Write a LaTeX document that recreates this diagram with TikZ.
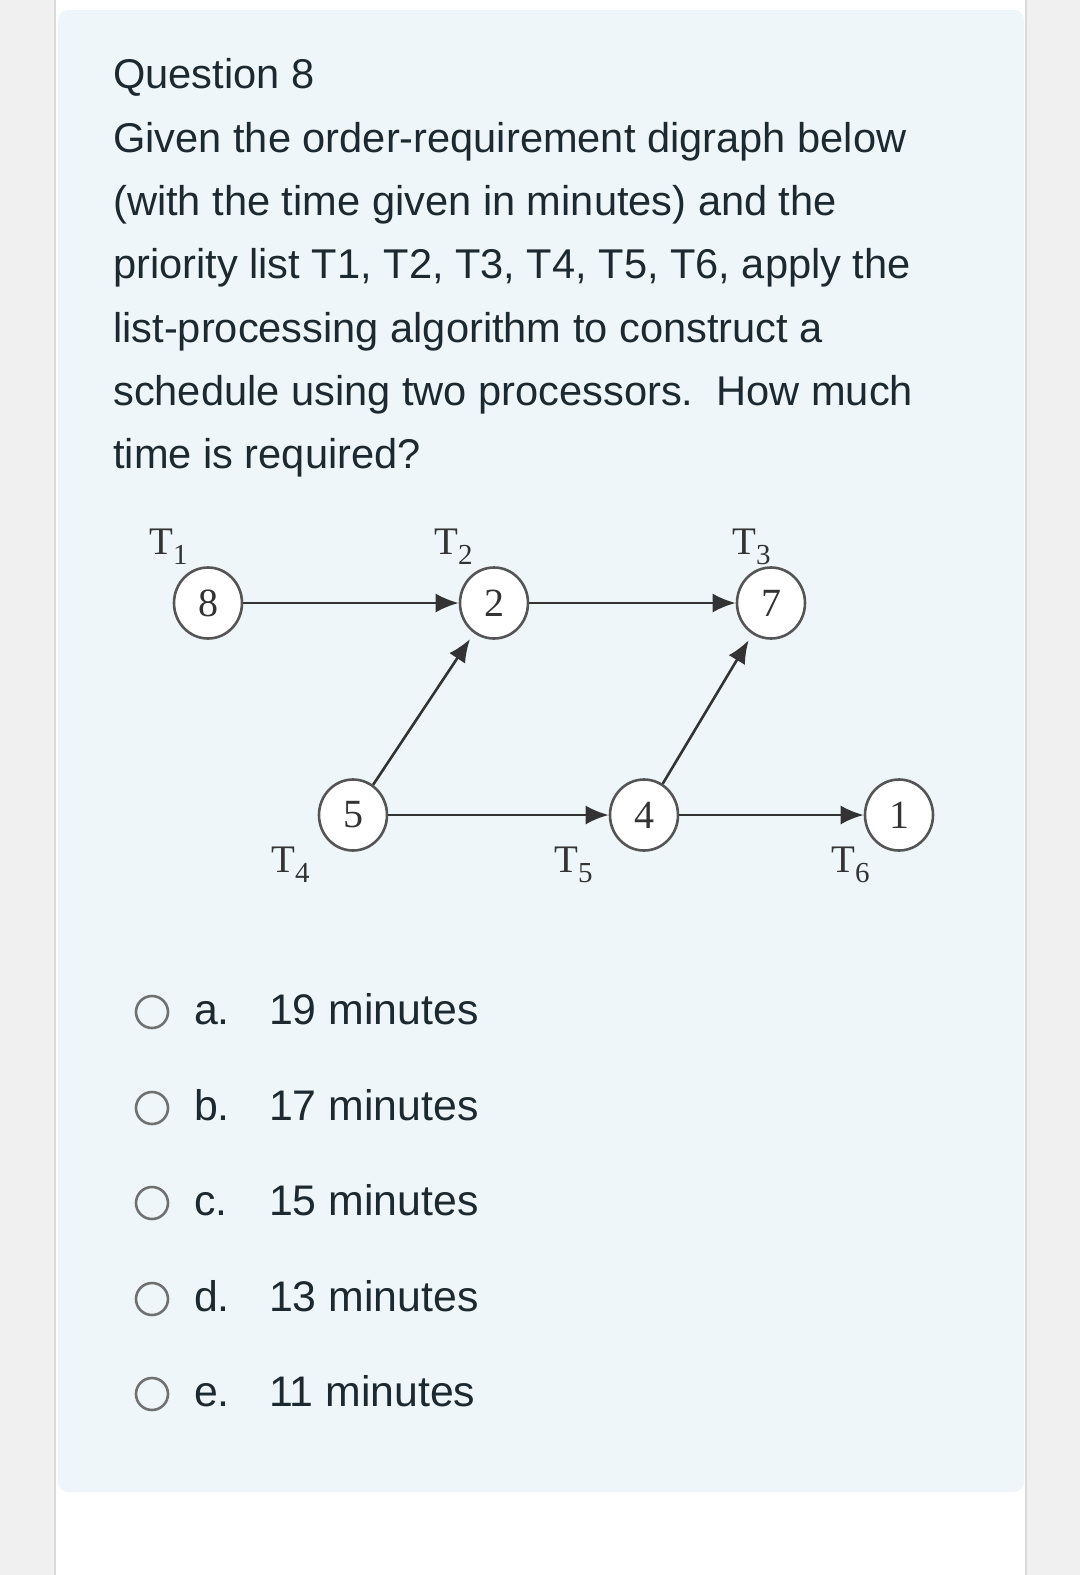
\documentclass[tikz,border=0pt]{standalone}
\usepackage{fontspec}
\setmainfont{Liberation Sans}
\newfontfamily\diagfont{Liberation Serif}
\usetikzlibrary{arrows.meta,shapes.geometric}
\definecolor{outergray}{HTML}{F0F0F0}
\definecolor{edgegray}{HTML}{DADADA}
\definecolor{panelblue}{HTML}{EEF6F9}
\definecolor{txt}{HTML}{1C2930}
\definecolor{radio}{HTML}{707070}
\definecolor{graphline}{HTML}{333333}
\definecolor{nodeline}{HTML}{555555}
\begin{document}
\begin{tikzpicture}[x=1pt,y=-1pt,
  qtext/.style={anchor=base west,inner sep=0pt,text=txt,font=\fontsize{41.6}{48}\selectfont},
  tnode/.style={ellipse,draw=nodeline,line width=2.6pt,fill=white,minimum width=68pt,minimum height=71pt,inner sep=0pt,font=\diagfont\fontsize{40}{40}\selectfont,text=graphline},
  tlabel/.style={anchor=base west,inner sep=0pt,font=\diagfont\fontsize{39}{39}\selectfont,text=graphline},
  dep/.style={draw=graphline,line width=2.6pt,-{Latex[length=23pt,width=19pt]}},
  radiobtn/.style={circle,draw=radio,line width=2.6pt,minimum size=32pt,inner sep=0pt},
  opt/.style={anchor=base west,inner sep=0pt,text=txt,font=\fontsize{42.8}{48}\selectfont}
]
\newcommand{\subidx}[1]{\raisebox{-0.28em}{\fontsize{29}{29}\selectfont #1}}
\useasboundingbox (0,0) rectangle (1080,1575);
% background
\fill[outergray] (0,0) rectangle (1080,1575);
\fill[white] (55,0) rectangle (1026,1575);
\draw[edgegray,line width=1.5pt] (55,0) -- (55,1575);
\draw[edgegray,line width=1.5pt] (1026,0) -- (1026,1575);
\fill[panelblue,rounded corners=10pt] (58,10) rectangle (1024,1492);

% question text
\node[qtext] (q0) at (113,88) {Question 8};
\node[qtext] (q1) at (113,152) {Given the order-requirement digraph below};
\node[qtext] (q2) at (113,215) {(with the time given in minutes) and the};
\node[qtext] (q3) at (113,278) {priority list T1, T2, T3, T4, T5, T6, apply the};
\node[qtext] (q4) at (113,342) {list-processing algorithm to construct a};
\node[qtext] (q5) at (113,405) {schedule using two processors.\ \ How much};
\node[qtext] (q6) at (113,468) {time is required?};

% digraph
\node[tnode] (t1) at (208,603) {8};
\node[tnode] (t2) at (494,603) {2};
\node[tnode] (t3) at (771,603) {7};
\node[tnode] (t4) at (353,815) {5};
\node[tnode] (t5) at (644,815) {4};
\node[tnode] (t6) at (899,815) {1};

\node[tlabel] (l1) at (149,554) {T\subidx{1}};
\node[tlabel] (l2) at (434,554) {T\subidx{2}};
\node[tlabel] (l3) at (732,554) {T\subidx{3}};
\node[tlabel] (l4) at (271,872) {T\subidx{4}};
\node[tlabel] (l5) at (554,872) {T\subidx{5}};
\node[tlabel] (l6) at (831,872) {T\subidx{6}};

\draw[dep] (t1) -- (t2);
\draw[dep] (t2) -- (t3);
\draw[dep] (t4) -- (t5);
\draw[dep] (t5) -- (t6);
\draw[dep,shorten >=7pt] (t4) -- (t2);
\draw[dep,shorten >=7pt] (t5) -- (t3);

% options
\node[radiobtn] (ra) at (152,1012) {};
\node[radiobtn] (rb) at (152,1108) {};
\node[radiobtn] (rc) at (152,1203) {};
\node[radiobtn] (rd) at (152,1299) {};
\node[radiobtn] (re) at (152,1394) {};
\node[opt] (la) at (194,1024) {a.};
\node[opt] (lb) at (194,1120) {b.};
\node[opt] (lc) at (194,1215) {c.};
\node[opt] (ld) at (194,1311) {d.};
\node[opt] (le) at (194,1406) {e.};
\node[opt] (oa) at (269,1024) {19 minutes};
\node[opt] (ob) at (269,1120) {17 minutes};
\node[opt] (oc) at (269,1215) {15 minutes};
\node[opt] (od) at (269,1311) {13 minutes};
\node[opt] (oe) at (269,1406) {11 minutes};
\end{tikzpicture}
\end{document}
